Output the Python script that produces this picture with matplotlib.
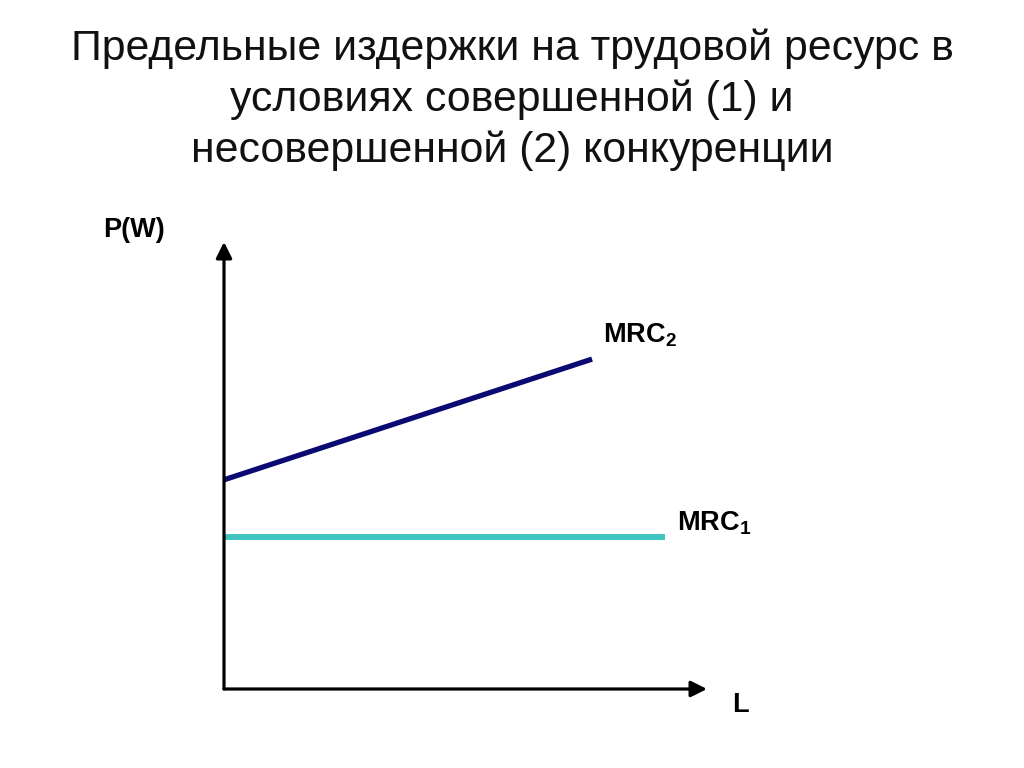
import matplotlib.pyplot as plt

plt.rcParams['font.family'] = ['Liberation Sans', 'DejaVu Sans']
plt.rcParams['mathtext.fontset'] = 'custom'
plt.rcParams['mathtext.rm'] = 'Liberation Sans:bold'
plt.rcParams['mathtext.bf'] = 'Liberation Sans:bold'

title = "Предельные издержки на трудовой ресурс в\nусловиях совершенной (1) и\nнесовершенной (2) конкуренции"

# labour quantity and marginal resource cost, in chart units
L_mrc1 = [0, 9.13]
mrc1 = [3.4, 3.4]
L_mrc2 = [0, 7.62]
mrc2 = [4.68, 7.38]

fig = plt.figure(figsize=(10.24, 7.68), dpi=100)
fig.text(0.5, 0.870, title, ha='center', va='center', fontsize=30.8,
         linespacing=1.33, color='#111111')

ax = fig.add_axes([224/1024, 79/768, 483/1024, 447/768])
ax.set_xlim(0, 10)
ax.set_ylim(0, 10)
ax.axis('off')

# axes with arrow heads
ax.annotate('', xy=(0, 1), xytext=(0, 0), xycoords='axes fraction',
            arrowprops=dict(arrowstyle='-|>', lw=2.3, color='black',
                            mutation_scale=24, shrinkA=0, shrinkB=0))
ax.annotate('', xy=(1, 0), xytext=(0, 0), xycoords='axes fraction',
            arrowprops=dict(arrowstyle='-|>', lw=2.3, color='black',
                            mutation_scale=24, shrinkA=0, shrinkB=0))

ax.plot(L_mrc1, mrc1, color='#40C4C0', lw=4.3, solid_capstyle='butt', clip_on=False)
ax.plot(L_mrc2, mrc2, color='#0A0A72', lw=3.8, solid_capstyle='butt', clip_on=False)

ax.text(L_mrc2[-1] + 0.22, mrc2[-1] + 0.23, r'MRC$_\mathbf{2}$', fontsize=19.5, fontweight='bold',
        ha='left', va='bottom')
ax.text(L_mrc1[-1] + 0.25, mrc1[-1] + 0.0, r'MRC$_\mathbf{1}$', fontsize=19.5, fontweight='bold',
        ha='left', va='bottom')
ax.text(-2.5, 10.26, 'P(W)', fontsize=19.5, fontweight='bold', ha='left', va='center')
ax.text(10.7, -0.36, 'L', fontsize=19.5, fontweight='bold', ha='center', va='center')

fig.savefig('out.png', dpi=100)
